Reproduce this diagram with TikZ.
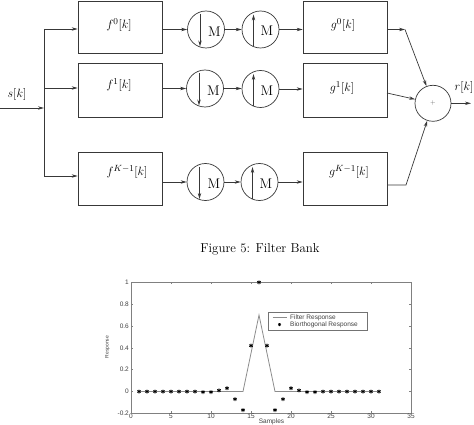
\documentclass[tikz,border=0pt]{standalone}
\usepackage{fontspec}
\newfontfamily\plotfont{Liberation Sans}
\usetikzlibrary{arrows.meta,calc,plotmarks}
\begin{document}
\begin{tikzpicture}[x=1pt,y=-1pt,
  line/.style={draw=black!78, line width=0.7pt},
  arr/.style={line, -{Stealth[length=6pt,width=3.4pt]}},
  box/.style={line, rectangle, minimum width=84pt, minimum height=53pt, inner sep=0pt},
  ring/.style={line, circle, minimum size=37pt, inner sep=0pt},
  lab/.style={font=\fontsize{12.9}{15}\selectfont, inner sep=0pt},
  mlab/.style={font=\fontsize{14}{16}\selectfont, inner sep=0pt},
  axis/.style={draw=black!50, line width=0.5pt},
  tick/.style={font=\plotfont\fontsize{6.5}{7}\selectfont, text=black!75, inner sep=1pt},
  resp/.style={draw=black!45, line width=0.8pt},
  star/.style={mark=asterisk, mark size=2pt, mark options={line width=0.8pt, draw=black}},
]
\useasboundingbox (0,0) rectangle (474,425);

% ---------- filter bank ----------
\node[box, minimum height=52pt] (f0) at (120,27) {};
\node[box, minimum height=54pt] (f1) at (120,90) {};
\node[box] (fK) at (120,178.5) {};
\node[box, minimum height=52pt] (g0) at (345,27) {};
\node[box, minimum height=54pt] (g1) at (345,90) {};
\node[box] (gK) at (345,178.5) {};

\node[lab] (f0t) at (119,25) {$f^0[k]$};
\node[lab] (f1t) at (119,85) {$f^1[k]$};
\node[lab] (fKt) at (127,172) {$f^{K-1}[k]$};
\node[lab] (g0t) at (343,25) {$g^0[k]$};
\node[lab] (g1t) at (342,88) {$g^1[k]$};
\node[lab] (gKt) at (349,172) {$g^{K-1}[k]$};

\node[ring] (d0) at (206,29.5) {};
\node[ring] (d1) at (205,88.5) {};
\node[ring] (dK) at (205.5,182) {};
\node[ring] (u0) at (260.5,29.5) {};
\node[ring] (u1) at (260.5,89) {};
\node[ring] (uK) at (259.5,182) {};
\node[ring, minimum size=36pt] (sum) at (433,103.3) {};
\node[font=\fontsize{6}{6}\selectfont, text=black!60, inner sep=0pt] (plus) at (sum) {+};

\foreach \c in {d0,d1,dK}{
  \draw[arr] ($(\c)+(-6,-15)$) -- ($(\c)+(-6,17)$);
  \node[mlab] (\c m) at ($(\c)+(8.5,2)$) {M};
}
\foreach \c in {u0,u1,uK}{
  \draw[arr] ($(\c)+(-7,17)$) -- ($(\c)+(-7,-15)$);
  \node[mlab] (\c m) at ($(\c)+(6.5,1.5)$) {M};
}

\coordinate (in) at (0,108);
\coordinate (j) at (44,108);
\coordinate (b0) at (44,29);
\coordinate (b1) at (44,88);
\coordinate (bK) at (44,176);
\node[lab] (sk) at (17,95) {$s[k]$};
\draw[arr] (in) -- (j);
\draw[line] (b0) -- (bK);
\draw[arr] (b0) -- (f0.west |- b0);
\draw[arr] (b1) -- (f1.west |- b1);
\draw[arr] (bK) -- (fK.west |- bK);

\draw[arr] (f0.east |- d0) -- (d0.west);
\draw[arr] (f1.east |- d1) -- (d1.west);
\draw[arr] (fK.east |- dK) -- (dK.west);
\draw[arr] (d0.east) -- (u0.west |- d0);
\draw[arr] (d1.east) -- (u1.west |- d1);
\draw[arr] (dK.east) -- (uK.west |- dK);
\draw[arr] (u0.east) -- (g0.west |- u0);
\draw[arr] (u1.east) -- (g1.west |- u1);
\draw[arr] (uK.east) -- (gK.west |- uK);

\coordinate (k0) at (405,29.5);
\coordinate (k1) at (387,93);
\coordinate (kK) at (406,185);
\draw[arr] (g0.east |- k0) -- (k0);
\draw[arr] (k0) -- (sum);
\draw[arr] (k1) -- (sum);
\draw[arr] (gK.east |- kK) -- (kK) -- (sum);
\coordinate (out) at (471,103.3);
\draw[arr] (sum.east) -- (out);
\node[lab] (rk) at (464,88) {$r[k]$};

% ---------- caption ----------
\node[font=\fontsize{12.9}{15}\selectfont, inner sep=0pt] (cap) at (260,249) {Figure 5: Filter Bank};

% ---------- plot ----------
\begin{scope}[shift={(131,391.5)}, x=8pt, y=109.2pt]
  \draw[resp] (1,0) -- (14,0) -- (16,0.7) -- (18,0) -- (31,0);
  \draw[axis] (0,-0.2) rectangle (35,1);
  \foreach \t in {0,5,...,35}{
    \draw[axis] (\t,-0.2) -- ++(0pt,2pt);
    \draw[axis] (\t,1) -- ++(0pt,-2pt);
    \node[tick, anchor=north, inner sep=0.6pt] (xt\t) at (\t,-0.2) {\t};
  }
  \foreach \v/\n in {-0.2/a,0/b,0.2/c,0.4/d,0.6/e,0.8/f,1/g}{
    \draw[axis] (0,\v) -- ++(2pt,0pt);
    \draw[axis] (35,\v) -- ++(-2pt,0pt);
    \node[tick, anchor=east, inner sep=2pt] (yt\n) at (0,\v) {\v};
  }
  \draw plot[only marks, star] coordinates {
    (1,0) (2,0) (3,0) (4,0) (5,0) (6,0) (7,0) (8,0) (9,-0.005) (10,-0.005)
    (11,0.01) (12,0.03) (13,-0.07) (14,-0.17) (15,0.42) (16,1) (17,0.42)
    (18,-0.17) (19,-0.07) (20,0.03) (21,0.01) (22,-0.005) (23,-0.005)
    (24,0) (25,0) (26,0) (27,0) (28,0) (29,0) (30,0) (31,0)};
\end{scope}
\node[tick] (xl) at (271.5,421.5) {Samples};
\node[tick, rotate=90, font=\plotfont\fontsize{5}{6}\selectfont] (yl) at (107.5,347) {Response};

\node[axis, draw=black!55, rectangle, minimum width=99pt, minimum height=18pt, inner sep=0pt] (leg) at (317.5,321) {};
\coordinate (l1a) at (272.5,317.5);
\coordinate (l1b) at (286.5,317.5);
\draw[resp] (l1a) -- (l1b);
\node[tick, anchor=west, inner sep=0pt] (leg1) at (290,317.5) {Filter Response};
\node[tick, anchor=west, inner sep=0pt] (leg2) at (290,324.5) {Biorthogonal Response};
\draw plot[only marks, star, mark size=1.5pt] coordinates {(279.5,324.5)};
\end{tikzpicture}
\end{document}
